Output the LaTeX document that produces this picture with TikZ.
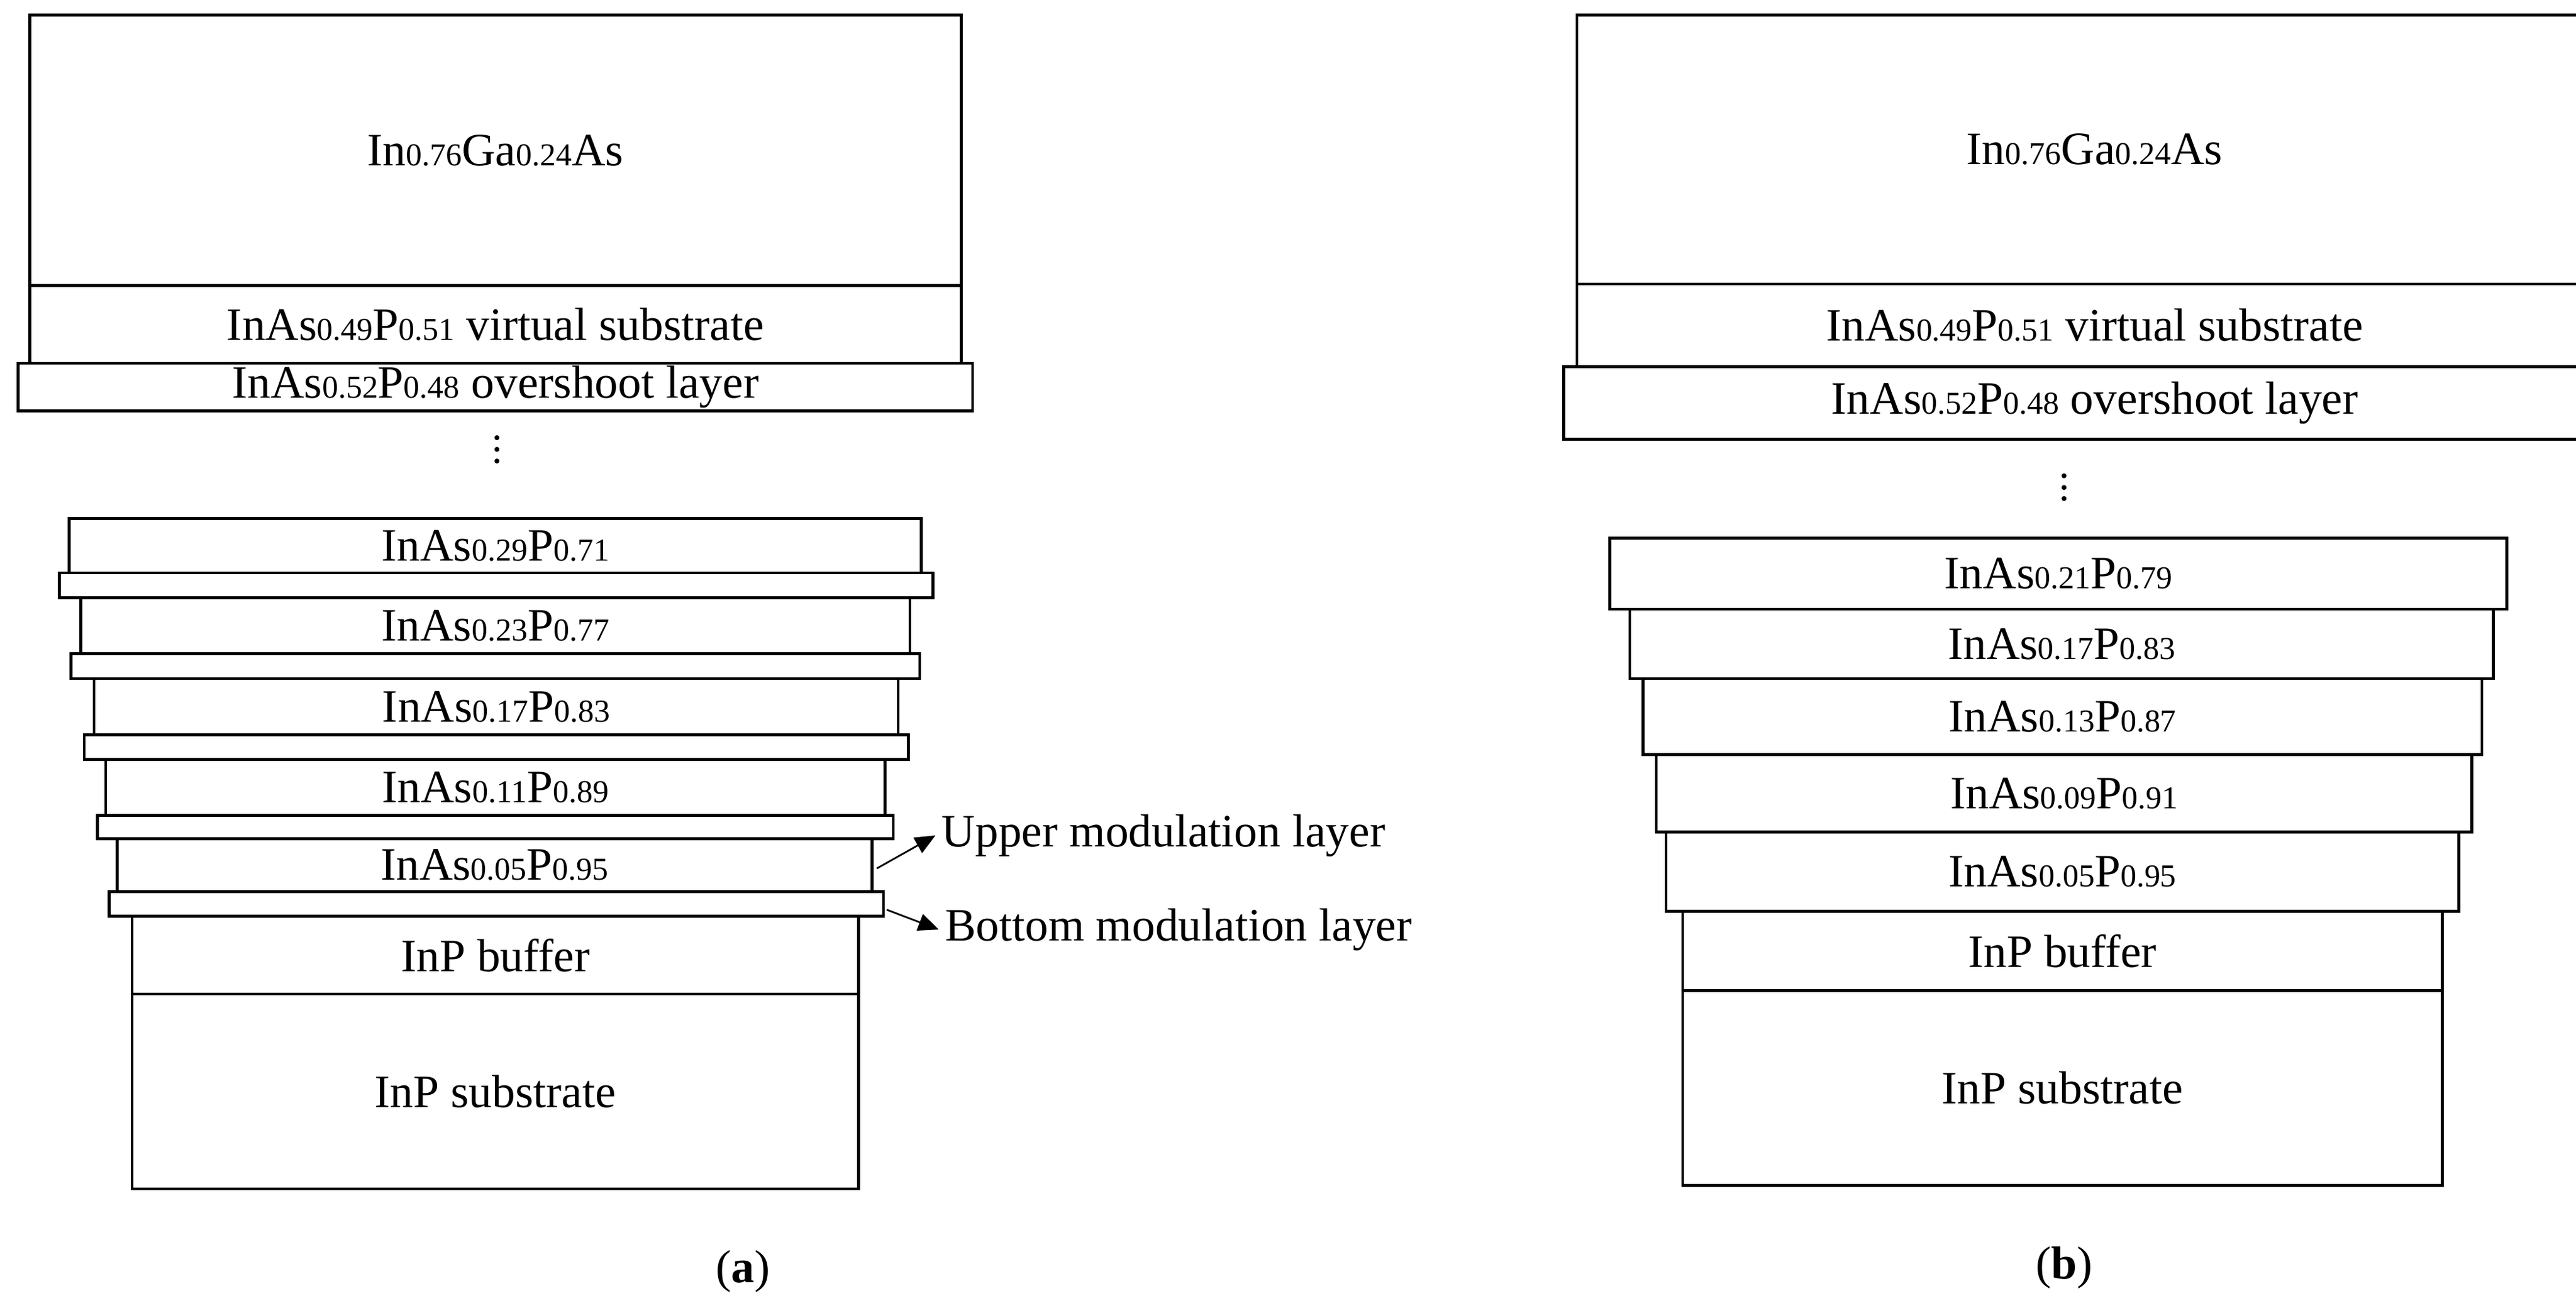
\documentclass[tikz,border=0pt]{standalone}
\usepackage{fontspec}
\setmainfont{Liberation Serif}
\usetikzlibrary{arrows.meta}
\newcommand\subn[1]{{\fontsize{11}{11}\selectfont #1}}
% layer: name, x1, y1, x2, y2, text (pixel units, y downwards)
\newcommand\layer[6]{\node[layer, minimum width={(#4-#2)*0.02cm}, minimum height={(#5-#3)*0.02cm}] (#1) at ({(#2+#4)/2},{(#3+#5)/2}) {#6};}
\begin{document}
\begin{tikzpicture}[x=0.02cm,y=-0.02cm,
  layer/.style={draw, line width=1pt, rectangle, inner sep=0pt, fill=white,
    font=\fontsize{16}{18}\selectfont},
  lbl/.style={anchor=west, inner sep=0pt, font=\fontsize{16}{18}\selectfont},
  dots/.style={inner sep=0pt, font=\fontsize{14}{14}\selectfont},
  arr/.style={line width=0.6pt, -{Triangle[length=7pt,width=6pt]}}]
\useasboundingbox (0,0) rectangle (1560,795);
% (a)
\layer{a0}{18}{9}{582}{173}{In\subn{0.76}Ga\subn{0.24}As}
\layer{a1}{18}{173}{582}{220}{InAs\subn{0.49}P\subn{0.51} virtual substrate}
\layer{a2}{11}{220}{589}{249}{InAs\subn{0.52}P\subn{0.48} overshoot layer}
\node[dots] (adots) at (301,267) {$\vdots$};
\layer{a3}{42}{314}{558}{347}{InAs\subn{0.29}P\subn{0.71}}
\layer{a3t}{36}{347}{565}{362}{}
\layer{a4}{49}{362}{551}{396}{InAs\subn{0.23}P\subn{0.77}}
\layer{a4t}{43}{396}{557}{411}{}
\layer{a5}{57}{411}{544}{445}{InAs\subn{0.17}P\subn{0.83}}
\layer{a5t}{51}{445}{550}{460}{}
\layer{a6}{64}{460}{536}{494}{InAs\subn{0.11}P\subn{0.89}}
\layer{a6t}{59}{494}{541}{508}{}
\layer{a7}{71}{508}{528}{540}{InAs\subn{0.05}P\subn{0.95}}
\layer{a7t}{66}{540}{535}{555}{}
\layer{a8}{80}{555}{520}{602}{InP buffer}
\layer{a9}{80}{602}{520}{720}{InP substrate}
\node[lbl] (up) at (570,506) {Upper modulation layer};
\node[lbl] (bot) at (572,563) {Bottom modulation layer};
\coordinate (upS) at (531,526);
\coordinate (botS) at (537,551);
\draw[arr] (upS) -- ([xshift=-2pt]up.west);
\draw[arr] (botS) -- ([xshift=-2pt]bot.west);
\node[font=\fontsize{16}{18}\selectfont] (capa) at (450,770) {(\textbf{a})};
% (b)
\layer{b0}{955}{9}{1582}{172}{In\subn{0.76}Ga\subn{0.24}As}
\layer{b1}{955}{172}{1582}{222}{InAs\subn{0.49}P\subn{0.51} virtual substrate}
\layer{b2}{947}{222}{1590}{266}{InAs\subn{0.52}P\subn{0.48} overshoot layer}
\node[dots] (bdots) at (1250,290) {$\vdots$};
\layer{b3}{975}{326}{1518}{369}{InAs\subn{0.21}P\subn{0.79}}
\layer{b4}{987}{369}{1510}{411}{InAs\subn{0.17}P\subn{0.83}}
\layer{b5}{995}{411}{1503}{457}{InAs\subn{0.13}P\subn{0.87}}
\layer{b6}{1003}{457}{1497}{504}{InAs\subn{0.09}P\subn{0.91}}
\layer{b7}{1009}{504}{1489}{552}{InAs\subn{0.05}P\subn{0.95}}
\layer{b8}{1019}{552}{1479}{600}{InP buffer}
\layer{b9}{1019}{600}{1479}{718}{InP substrate}
\node[font=\fontsize{16}{18}\selectfont] (capb) at (1250,768) {(\textbf{b})};
\end{tikzpicture}
\end{document}
